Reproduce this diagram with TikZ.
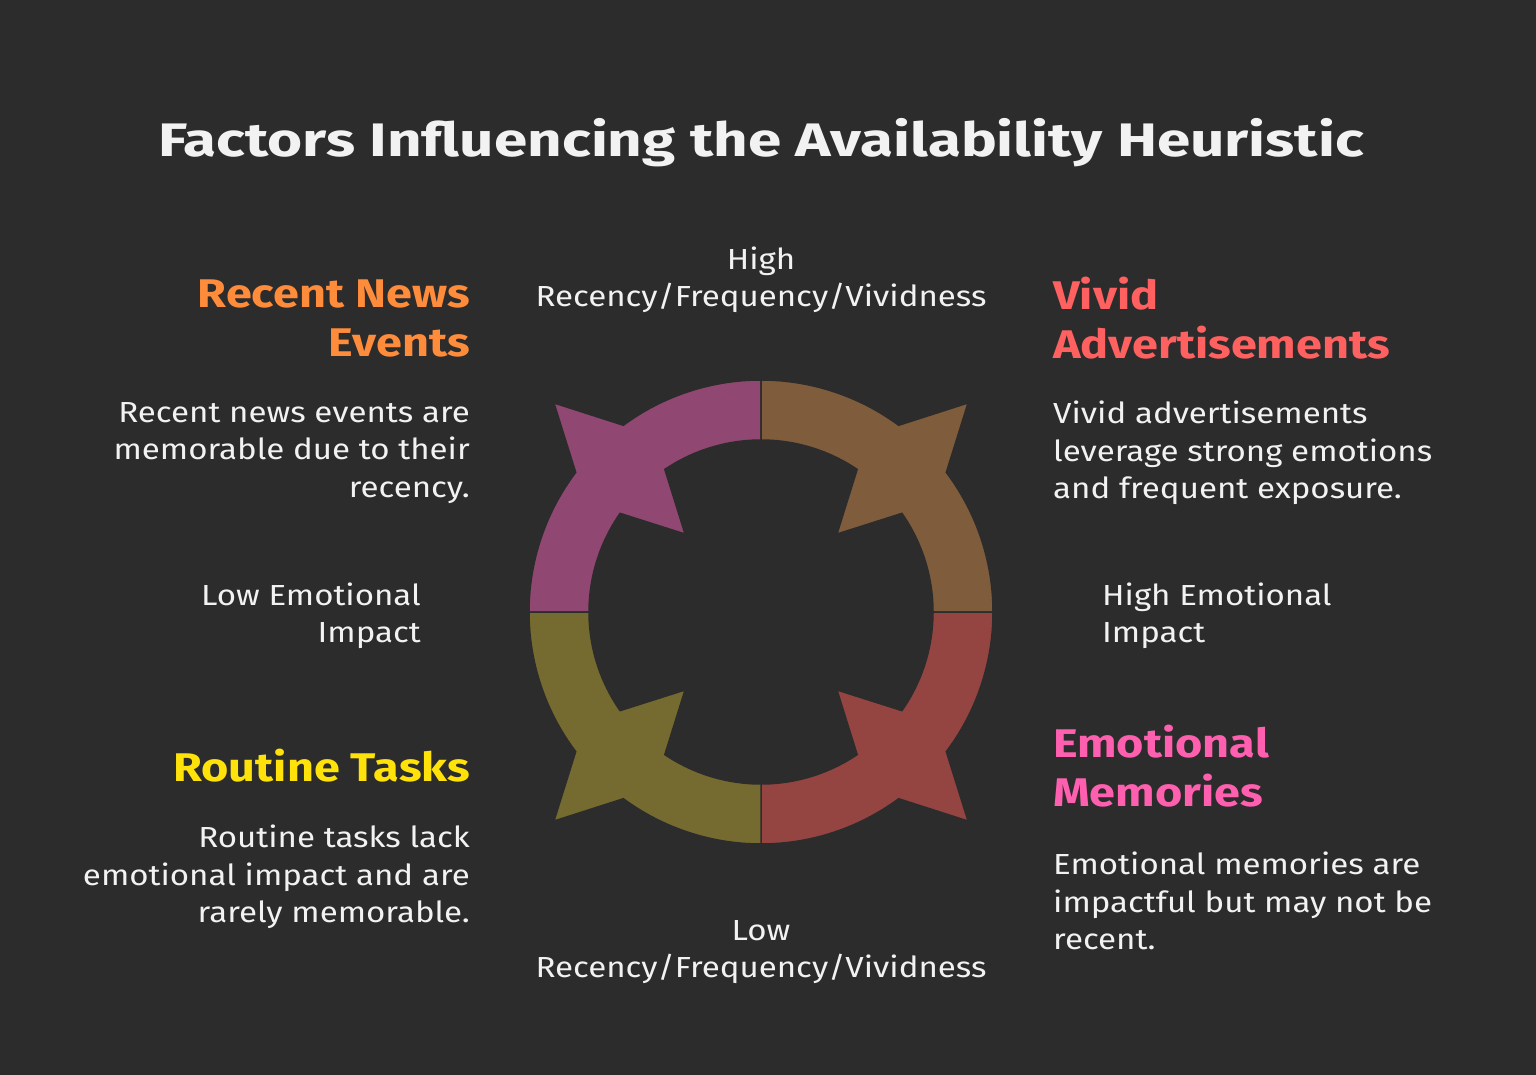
\documentclass[tikz,border=0pt]{standalone}
\usepackage{fontspec}
\setmainfont{Fira Sans}
\newfontfamily\titlefont{Fira Sans}[FakeStretch=1.28]
\newfontfamily\headfont{Fira Sans}[FakeStretch=1.17]
\newfontfamily\bodyfont{Fira Sans}[FakeStretch=1.14]
\definecolor{bg}{HTML}{2D2C2C}
\definecolor{qpurple}{HTML}{904872}
\definecolor{qbrown}{HTML}{7F5C3C}
\definecolor{qred}{HTML}{944542}
\definecolor{qolive}{HTML}{756B30}
\definecolor{horange}{HTML}{FF8C3A}
\definecolor{hred}{HTML}{FF6060}
\definecolor{hpink}{HTML}{FF5FAF}
\definecolor{hyellow}{HTML}{FFE20A}
\definecolor{txt}{HTML}{F2F2F2}
\begin{document}
\begin{tikzpicture}[x=1pt,y=-1pt,
  quad/.style={draw=bg,line width=1.5pt},
  head/.style={font=\headfont\fontsize{40}{49}\selectfont\bfseries,inner sep=0pt},
  body/.style={font=\bodyfont\fontsize{29}{37.5}\selectfont,text=txt,inner sep=0pt},
  axis/.style={font=\bodyfont\fontsize{29}{37.5}\selectfont,text=txt,inner sep=0pt}]
\fill[bg] (0,0) rectangle (1536,1075);
\useasboundingbox (0,0) rectangle (1536,1075);
\node[text=txt,font=\titlefont\fontsize{47}{56}\selectfont\bfseries,inner sep=0pt] (title) at (761,143) {Factors Influencing the Availability Heuristic};
\def\quadpath{(90:232) arc[start angle=90,end angle=126.4,radius=232] -- (-207,209) -- (143:232) arc[start angle=143,end angle=180,radius=232] -- (180:172) arc[start angle=180,end angle=145,radius=172] -- (-76,78) -- (124:172) arc[start angle=124,end angle=90,radius=172] -- cycle}
\begin{scope}[shift={(761,612)},yscale=-1]
  \fill[qpurple,quad] \quadpath;
  \begin{scope}[xscale=-1]\fill[qbrown,quad] \quadpath;\end{scope}
  \begin{scope}[xscale=-1,yscale=-1]\fill[qred,quad] \quadpath;\end{scope}
  \begin{scope}[yscale=-1]\fill[qolive,quad] \quadpath;\end{scope}
\end{scope}
% axis labels
\node[axis,align=center] (top) at (761,280) {High\\Recency/Frequency/Vividness};
\node[axis,align=center] (bot) at (761,952) {Low\\Recency/Frequency/Vividness};
\node[axis,align=right,anchor=east] (left) at (421,616) {Low Emotional\\Impact};
\node[axis,align=left,anchor=west] (right) at (1102,616) {High Emotional\\Impact};
% left blocks
\node[head,text=horange,align=right,anchor=east] (h1) at (470,318) {Recent News\\Events};
\node[body,align=right,anchor=east] (b1) at (470,453) {Recent news events are\\memorable due to their\\recency.};
\node[head,text=hyellow,align=right,anchor=east] (h4) at (470,766) {Routine Tasks};
\node[body,align=right,anchor=east] (b4) at (470,877) {Routine tasks lack\\emotional impact and are\\rarely memorable.};
% right blocks
\node[head,text=hred,align=left,anchor=west] (h2) at (1053,318) {Vivid\\Advertisements};
\node[body,align=left,anchor=west] (b2) at (1053,453) {Vivid advertisements\\leverage strong emotions\\and frequent exposure.};
\node[head,text=hpink,align=left,anchor=west] (h3) at (1053,766) {Emotional\\Memories};
\node[body,align=left,anchor=west] (b3) at (1053,901) {Emotional memories are\\impactful but may not be\\recent.};
\end{tikzpicture}
\end{document}
